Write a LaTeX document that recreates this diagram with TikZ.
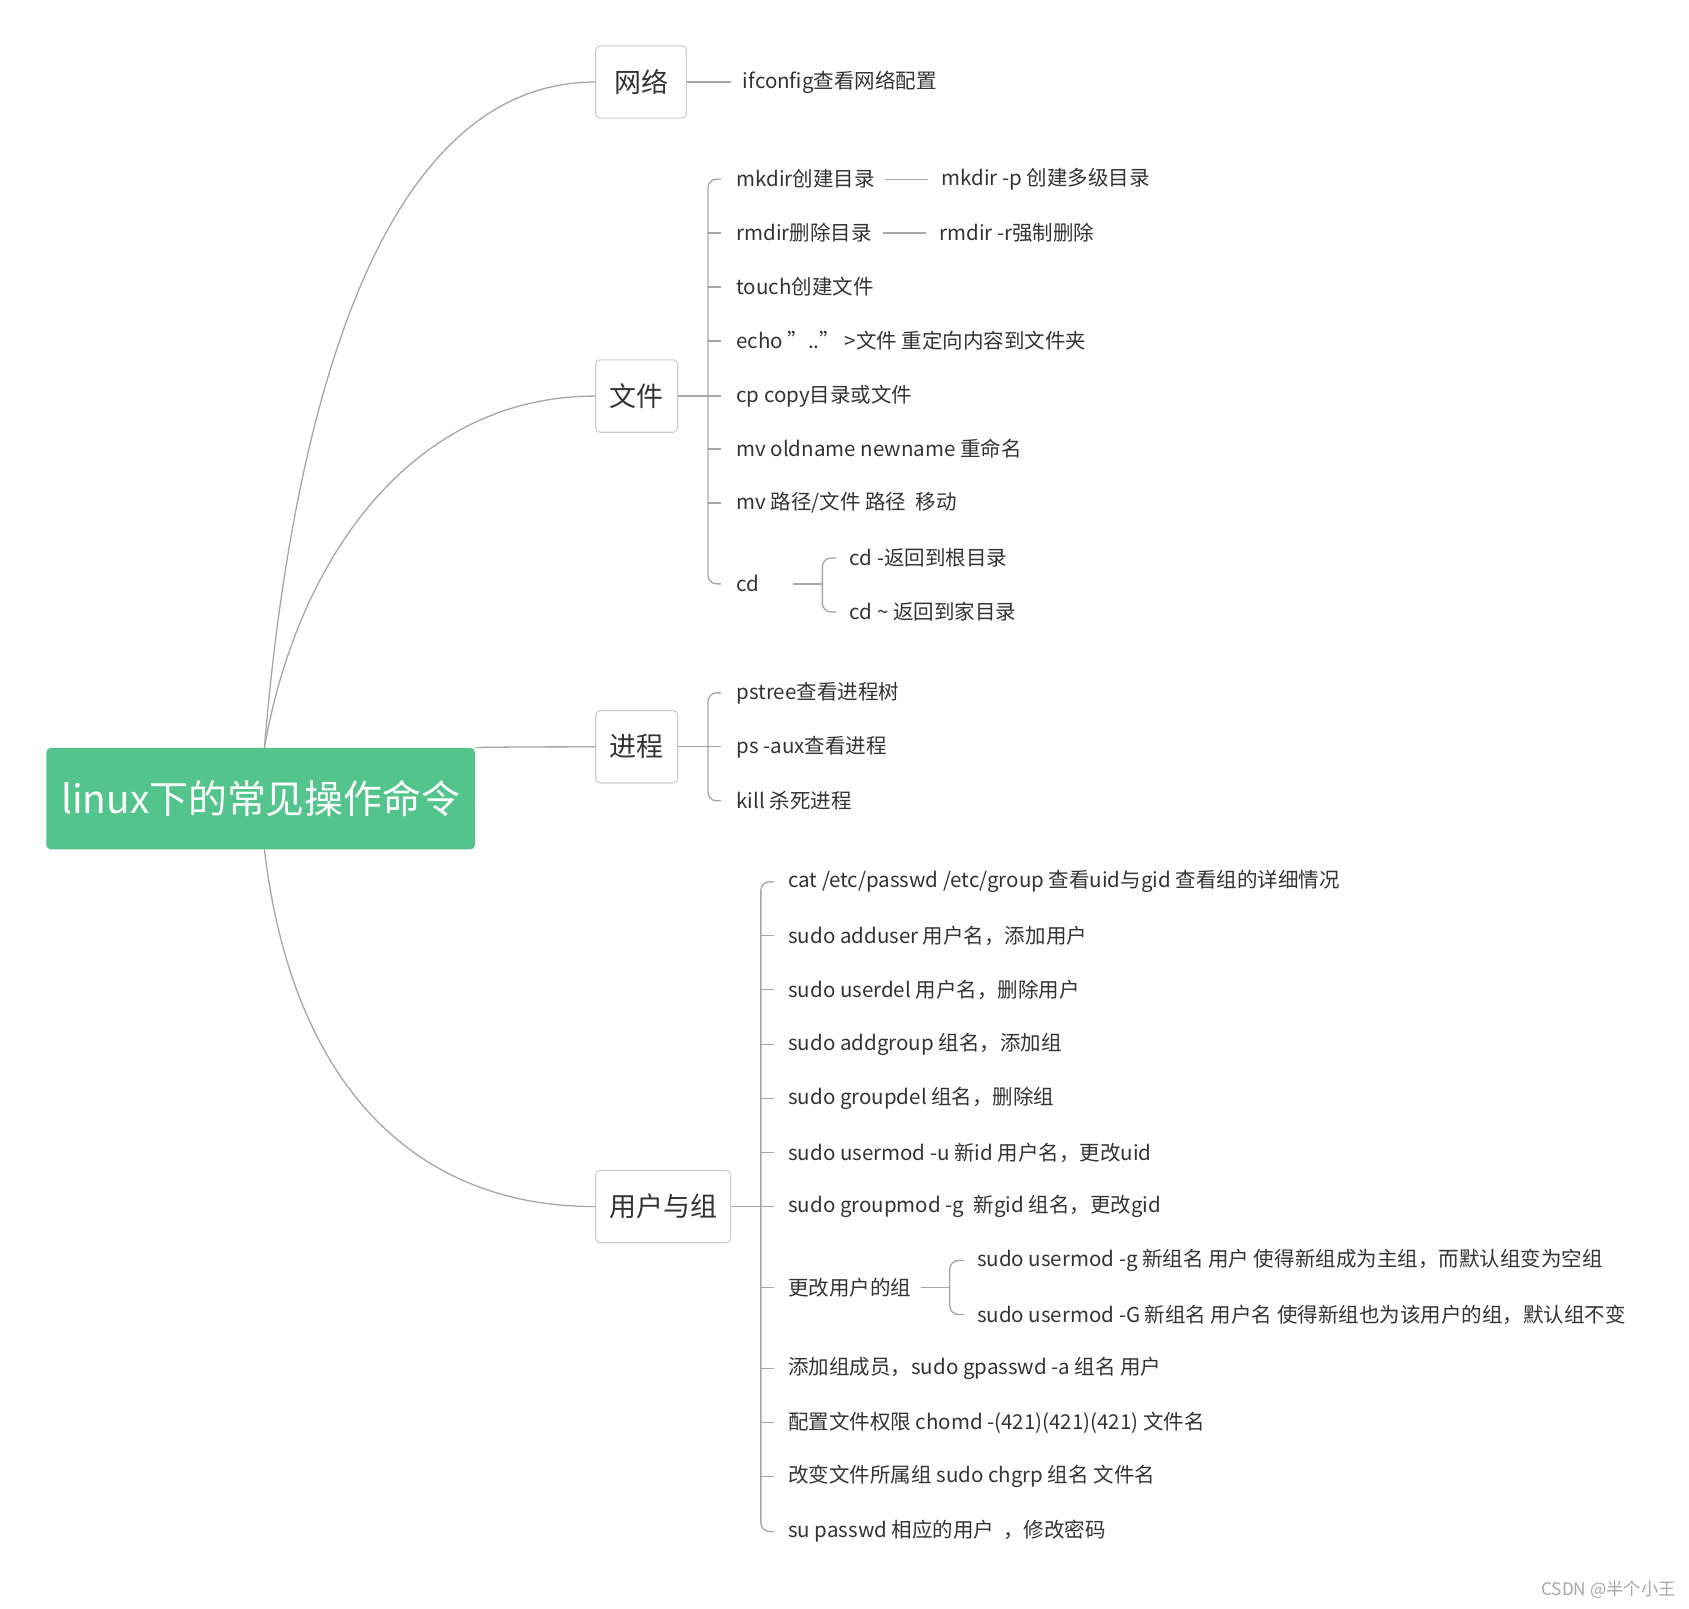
\documentclass[tikz,border=0pt]{standalone}
\usepackage{fontspec}
\setmainfont{Noto Sans CJK SC}
\newcommand{\dq}{\symbol{34}}
\begin{document}
\begin{tikzpicture}[x=0.5pt,y=-0.5pt,
  ln/.style={draw=gray!70,line width=0.6pt},
  br/.style={ln,rounded corners=4pt},
  txt/.style={anchor=west,inner sep=0pt,font=\fontsize{9.5}{12}\selectfont,text=black!80},
  cat/.style={draw=gray!40,rounded corners=2pt,line width=0.5pt,minimum height=33.5pt,font=\fontsize{12.5}{15}\selectfont,text=black!80,inner sep=0pt},
  rootbox/.style={rounded corners=2pt,minimum width=198.5pt,minimum height=47pt,inner sep=0pt,text=white,font=\fontsize{18}{22}\selectfont}]
\definecolor{rootg}{HTML}{52C48C}
\useasboundingbox (0,0) rectangle (1565,1490);
\node[rootbox,fill=rootg] (root) at (241.5,740) {linux下的常见操作命令};
\node[cat,minimum width=42pt] (net) at (594,76) {网络};
\node[cat,minimum width=38pt] (file) at (590,367) {文件};
\node[cat,minimum width=38pt] (proc) at (590,692) {进程};
\node[cat,minimum width=62.5pt] (user) at (614.5,1118) {用户与组};
\coordinate (rt) at (245,693);
\coordinate (rb) at (245,787);
\draw[ln] (rt) .. controls (265,450) and (330,76) .. (net.west);
\draw[ln] (rt) .. controls (275,520) and (380,367) .. (file.west);
\draw[ln] (root.north east) .. controls (480,692) and (520,692) .. (proc.west);
\draw[ln] (rb) .. controls (270,1000) and (380,1118) .. (user.west);
% network
\node[txt] (n1) at (688,76) {ifconfig查看网络配置};
\draw[ln] (net.east) -- ++(41,0);
% files
\foreach \n/\y/\t in {f1/166/{mkdir创建目录}, f2/216/{rmdir删除目录}, f3/266/{touch创建文件}, f4/316/{echo \dq..\dq\ >文件 重定向内容到文件夹}, f5/367/{cp copy目录或文件}, f6/416/{mv oldname newname 重命名}, f7/466/{mv 路径/文件 路径\ \ 移动}, f8/541/{cd}}
  \node[txt] (\n) at (682,\y) {\t};
\draw[br] (668,166) -- (656,166) -- (656,541) -- (668,541);
\foreach \y in {216,266,316,416,466} \draw[ln] (656,\y) -- (668,\y);
\draw[ln] (file.east) -- (668,367);
\node[txt] (f1a) at (872,166) {mkdir -p 创建多级目录};
\draw[ln] (820,166) -- (860,166);
\node[txt] (f2a) at (870,216) {rmdir -r强制删除};
\draw[ln] (818,216) -- (858,216);
\node[txt] (cd1) at (787,517) {cd -返回到根目录};
\node[txt] (cd2) at (787,567) {cd \textasciitilde{} 返回到家目录};
\draw[ln] (735,541) -- (762,541);
\draw[br] (775,517) -- (762,517) -- (762,567) -- (775,567);
% process
\node[txt] (p1) at (682,642) {pstree查看进程树};
\node[txt] (p2) at (682,692) {ps -aux查看进程};
\node[txt] (p3) at (682,742) {kill 杀死进程};
\draw[br] (668,642) -- (656,642) -- (656,742) -- (668,742);
\draw[ln] (proc.east) -- (668,692);
% users
\foreach \n/\y/\t in {u1/817/{cat /etc/passwd /etc/group 查看uid与gid 查看组的详细情况}, u2/867/{sudo adduser 用户名，添加用户}, u3/917/{sudo userdel 用户名，删除用户}, u4/968/{sudo addgroup 组名，添加组}, u5/1018/{sudo groupdel 组名，删除组}, u6/1068/{sudo usermod -u 新id 用户名，更改uid}, u7/1118/{sudo groupmod -g\ \ 新gid 组名，更改gid}, u8/1193/{更改用户的组}, u9/1268/{添加组成员，sudo gpasswd -a 组名 用户}, u10/1318/{配置文件权限 chomd -(421)(421)(421) 文件名}, u11/1368/{改变文件所属组 sudo chgrp 组名 文件名}, u12/1419/{su passwd 相应的用户\ \ ，修改密码}}
  \node[txt] (\n) at (730,\y) {\t};
\draw[br] (717,817) -- (705,817) -- (705,1419) -- (717,1419);
\foreach \y in {867,917,968,1018,1068,1193,1268,1318,1368} \draw[ln] (705,\y) -- (717,\y);
\draw[ln] (user.east) -- (717,1118);
\node[txt] (g1) at (905,1168) {sudo usermod -g 新组名 用户 使得新组成为主组，而默认组变为空组};
\node[txt] (g2) at (905,1218) {sudo usermod -G 新组名 用户名 使得新组也为该用户的组，默认组不变};
\draw[ln] (853,1193) -- (880,1193);
\draw[br] (893,1168) -- (880,1168) -- (880,1218) -- (893,1218);
\node[anchor=east,inner sep=0pt,text=gray!70,font=\fontsize{8}{10}\selectfont] (wm) at (1553,1473) {CSDN @半个小王};
\end{tikzpicture}
\end{document}
